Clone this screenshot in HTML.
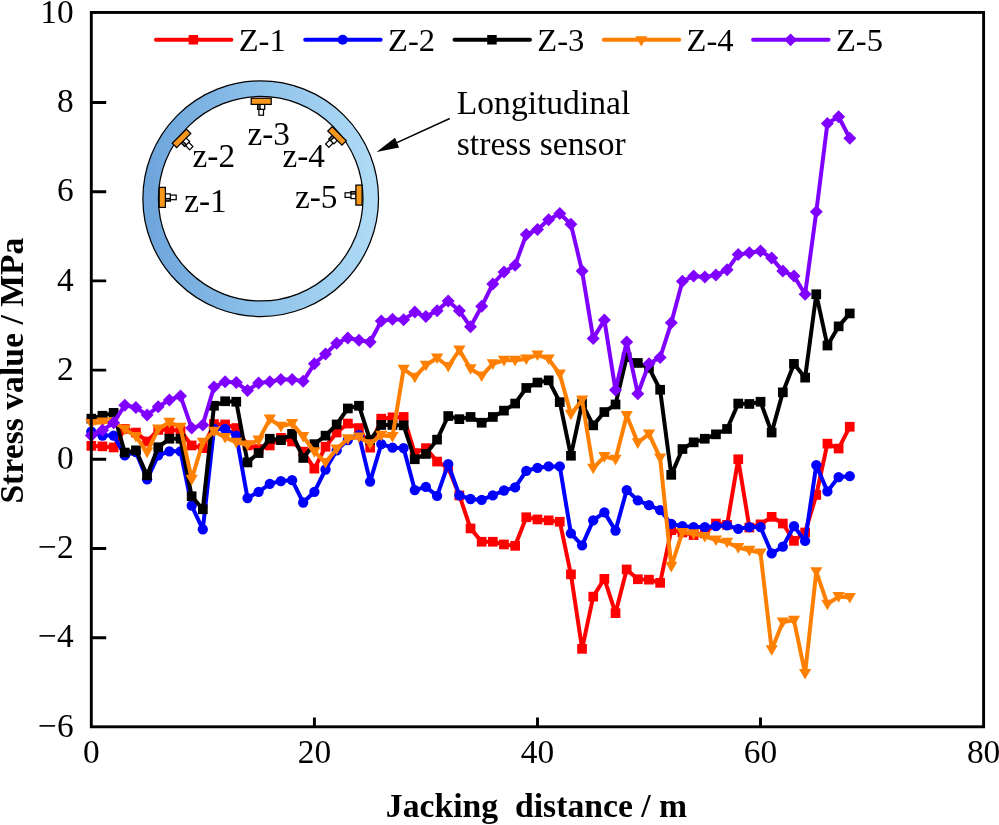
<!DOCTYPE html>
<html lang="en"><head><meta charset="utf-8"><title>Stress value vs jacking distance</title>
<style>html,body{margin:0;padding:0;background:#fff}body{width:999px;height:825px;overflow:hidden}svg{display:block}text{font-family:"Liberation Serif","Times New Roman",serif;fill:#000}</style></head><body>
<svg width="999" height="825" viewBox="0 0 999 825">
<defs><linearGradient id="rg" x1="0" y1="0" x2="1" y2="0"><stop offset="0" stop-color="#6ea6dc"/><stop offset="0.5" stop-color="#8ec2ea"/><stop offset="1" stop-color="#aedaf5"/></linearGradient></defs>
<rect width="999" height="825" fill="#fff"/>
<g id="ring">
<circle cx="260.7" cy="198.7" r="110.05" fill="none" stroke="#000" stroke-width="16.8"/>
<circle cx="260.7" cy="198.7" r="110.05" fill="none" stroke="url(#rg)" stroke-width="14.3"/>
<g transform="translate(261.2,97.6) rotate(0)" stroke="#000" stroke-width="1.25"><rect x="-2.3" y="11" width="4.6" height="6.6" fill="#fff"/><rect x="-3.5" y="6.5" width="7" height="5.2" fill="#fff"/><rect x="-3.5" y="6.5" width="2.4" height="5.2" fill="#777"/><rect x="-10" y="0.6" width="20" height="6.2" fill="#f7981d"/></g>
<g transform="translate(158.6,197.4) rotate(-90)" stroke="#000" stroke-width="1.25"><rect x="-2.3" y="11" width="4.6" height="6.6" fill="#fff"/><rect x="-3.5" y="6.5" width="7" height="5.2" fill="#fff"/><rect x="-3.5" y="6.5" width="2.4" height="5.2" fill="#777"/><rect x="-10" y="0.6" width="20" height="6.2" fill="#f7981d"/></g>
<g transform="translate(362.7,195.1) rotate(90)" stroke="#000" stroke-width="1.25"><rect x="-2.3" y="11" width="4.6" height="6.6" fill="#fff"/><rect x="-3.5" y="6.5" width="7" height="5.2" fill="#fff"/><rect x="-3.5" y="6.5" width="2.4" height="5.2" fill="#777"/><rect x="-10" y="0.6" width="20" height="6.2" fill="#f7981d"/></g>
<g transform="translate(178.9,135.7) rotate(-45)" stroke="#000" stroke-width="1.25"><rect x="-2.3" y="11" width="4.6" height="6.6" fill="#fff"/><rect x="-3.5" y="6.5" width="7" height="5.2" fill="#fff"/><rect x="-3.5" y="6.5" width="2.4" height="5.2" fill="#777"/><rect x="-10" y="0.6" width="20" height="6.2" fill="#f7981d"/></g>
<g transform="translate(339.7,133.2) rotate(45)" stroke="#000" stroke-width="1.25"><rect x="-2.3" y="11" width="4.6" height="6.6" fill="#fff"/><rect x="-3.5" y="6.5" width="7" height="5.2" fill="#fff"/><rect x="-3.5" y="6.5" width="2.4" height="5.2" fill="#777"/><rect x="-10" y="0.6" width="20" height="6.2" fill="#f7981d"/></g>
<text x="184.2" y="211.9" font-size="33.3">z-1</text>
<text x="192.6" y="167.1" font-size="33.3">z-2</text>
<text x="247.5" y="145.1" font-size="33.3">z-3</text>
<text x="282.4" y="167.1" font-size="33.3">z-4</text>
<text x="295" y="207.8" font-size="33.3">z-5</text>
</g>
<g id="s-Z-1"><polyline points="91.3,445.9 102.5,446.3 113.6,447.5 124.8,429.0 135.9,432.5 147.1,441.4 158.2,429.8 169.4,429.8 180.5,430.7 191.7,445.5 202.8,448.1 214.0,424.0 225.1,424.5 236.3,428.1 247.5,445.5 258.6,449.0 269.8,445.5 280.9,437.9 292.1,441.4 303.2,451.7 314.4,468.6 325.5,446.8 336.7,432.5 347.8,423.6 359.0,428.1 370.1,447.7 381.3,418.7 392.5,417.4 403.6,416.9 414.8,453.0 425.9,448.1 437.1,461.5 448.2,467.8 459.4,495.4 470.5,528.4 481.7,541.8 492.8,541.8 504.0,544.5 515.1,545.8 526.3,517.3 537.5,519.5 548.6,520.4 559.8,521.7 570.9,574.3 582.1,648.8 593.2,596.6 604.4,578.8 615.5,613.1 626.7,569.4 637.8,579.3 649.0,579.7 660.1,582.8 671.3,530.2 682.4,532.4 693.6,535.1 704.8,533.3 715.9,523.5 727.1,524.8 738.2,459.3 749.4,527.5 760.5,524.4 771.7,516.8 782.8,523.5 794.0,540.9 805.1,532.4 816.3,495.0 827.4,443.7 838.6,448.6 849.8,426.7" fill="none" stroke="#ff0000" stroke-width="4.0" stroke-linejoin="round" stroke-linecap="round"/>
<rect x="86.5" y="441.0" width="9.7" height="9.7" fill="#ff0000"/><rect x="97.6" y="441.5" width="9.7" height="9.7" fill="#ff0000"/><rect x="108.8" y="442.6" width="9.7" height="9.7" fill="#ff0000"/><rect x="119.9" y="424.1" width="9.7" height="9.7" fill="#ff0000"/><rect x="131.1" y="427.7" width="9.7" height="9.7" fill="#ff0000"/><rect x="142.2" y="436.6" width="9.7" height="9.7" fill="#ff0000"/><rect x="153.4" y="425.0" width="9.7" height="9.7" fill="#ff0000"/><rect x="164.5" y="425.0" width="9.7" height="9.7" fill="#ff0000"/><rect x="175.7" y="425.9" width="9.7" height="9.7" fill="#ff0000"/><rect x="186.8" y="440.6" width="9.7" height="9.7" fill="#ff0000"/><rect x="198.0" y="443.3" width="9.7" height="9.7" fill="#ff0000"/><rect x="209.1" y="419.2" width="9.7" height="9.7" fill="#ff0000"/><rect x="220.3" y="419.6" width="9.7" height="9.7" fill="#ff0000"/><rect x="231.4" y="423.2" width="9.7" height="9.7" fill="#ff0000"/><rect x="242.6" y="440.6" width="9.7" height="9.7" fill="#ff0000"/><rect x="253.8" y="444.2" width="9.7" height="9.7" fill="#ff0000"/><rect x="264.9" y="440.6" width="9.7" height="9.7" fill="#ff0000"/><rect x="276.1" y="433.0" width="9.7" height="9.7" fill="#ff0000"/><rect x="287.2" y="436.6" width="9.7" height="9.7" fill="#ff0000"/><rect x="298.4" y="446.8" width="9.7" height="9.7" fill="#ff0000"/><rect x="309.5" y="463.8" width="9.7" height="9.7" fill="#ff0000"/><rect x="320.7" y="441.9" width="9.7" height="9.7" fill="#ff0000"/><rect x="331.8" y="427.7" width="9.7" height="9.7" fill="#ff0000"/><rect x="343.0" y="418.7" width="9.7" height="9.7" fill="#ff0000"/><rect x="354.1" y="423.2" width="9.7" height="9.7" fill="#ff0000"/><rect x="365.3" y="442.8" width="9.7" height="9.7" fill="#ff0000"/><rect x="376.4" y="413.8" width="9.7" height="9.7" fill="#ff0000"/><rect x="387.6" y="412.5" width="9.7" height="9.7" fill="#ff0000"/><rect x="398.8" y="412.1" width="9.7" height="9.7" fill="#ff0000"/><rect x="409.9" y="448.2" width="9.7" height="9.7" fill="#ff0000"/><rect x="421.1" y="443.3" width="9.7" height="9.7" fill="#ff0000"/><rect x="432.2" y="456.7" width="9.7" height="9.7" fill="#ff0000"/><rect x="443.4" y="462.9" width="9.7" height="9.7" fill="#ff0000"/><rect x="454.5" y="490.6" width="9.7" height="9.7" fill="#ff0000"/><rect x="465.7" y="523.6" width="9.7" height="9.7" fill="#ff0000"/><rect x="476.8" y="536.9" width="9.7" height="9.7" fill="#ff0000"/><rect x="488.0" y="536.9" width="9.7" height="9.7" fill="#ff0000"/><rect x="499.1" y="539.6" width="9.7" height="9.7" fill="#ff0000"/><rect x="510.3" y="541.0" width="9.7" height="9.7" fill="#ff0000"/><rect x="521.4" y="512.4" width="9.7" height="9.7" fill="#ff0000"/><rect x="532.6" y="514.6" width="9.7" height="9.7" fill="#ff0000"/><rect x="543.8" y="515.5" width="9.7" height="9.7" fill="#ff0000"/><rect x="554.9" y="516.9" width="9.7" height="9.7" fill="#ff0000"/><rect x="566.1" y="569.5" width="9.7" height="9.7" fill="#ff0000"/><rect x="577.2" y="644.0" width="9.7" height="9.7" fill="#ff0000"/><rect x="588.4" y="591.8" width="9.7" height="9.7" fill="#ff0000"/><rect x="599.5" y="574.0" width="9.7" height="9.7" fill="#ff0000"/><rect x="610.7" y="608.3" width="9.7" height="9.7" fill="#ff0000"/><rect x="621.8" y="564.6" width="9.7" height="9.7" fill="#ff0000"/><rect x="633.0" y="574.4" width="9.7" height="9.7" fill="#ff0000"/><rect x="644.1" y="574.8" width="9.7" height="9.7" fill="#ff0000"/><rect x="655.3" y="578.0" width="9.7" height="9.7" fill="#ff0000"/><rect x="666.4" y="525.3" width="9.7" height="9.7" fill="#ff0000"/><rect x="677.6" y="527.6" width="9.7" height="9.7" fill="#ff0000"/><rect x="688.8" y="530.2" width="9.7" height="9.7" fill="#ff0000"/><rect x="699.9" y="528.5" width="9.7" height="9.7" fill="#ff0000"/><rect x="711.1" y="518.7" width="9.7" height="9.7" fill="#ff0000"/><rect x="722.2" y="520.0" width="9.7" height="9.7" fill="#ff0000"/><rect x="733.4" y="454.4" width="9.7" height="9.7" fill="#ff0000"/><rect x="744.5" y="522.7" width="9.7" height="9.7" fill="#ff0000"/><rect x="755.7" y="519.5" width="9.7" height="9.7" fill="#ff0000"/><rect x="766.8" y="512.0" width="9.7" height="9.7" fill="#ff0000"/><rect x="778.0" y="518.7" width="9.7" height="9.7" fill="#ff0000"/><rect x="789.1" y="536.0" width="9.7" height="9.7" fill="#ff0000"/><rect x="800.3" y="527.6" width="9.7" height="9.7" fill="#ff0000"/><rect x="811.4" y="490.1" width="9.7" height="9.7" fill="#ff0000"/><rect x="822.6" y="438.8" width="9.7" height="9.7" fill="#ff0000"/><rect x="833.8" y="443.7" width="9.7" height="9.7" fill="#ff0000"/><rect x="844.9" y="421.9" width="9.7" height="9.7" fill="#ff0000"/>
</g>
<g id="s-Z-2"><polyline points="91.3,431.6 102.5,435.6 113.6,435.6 124.8,455.3 135.9,452.1 147.1,479.3 158.2,455.3 169.4,451.3 180.5,451.3 191.7,505.7 202.8,529.3 214.0,429.0 225.1,429.0 236.3,435.6 247.5,498.1 258.6,491.8 269.8,483.8 280.9,481.1 292.1,480.2 303.2,502.5 314.4,491.8 325.5,469.5 336.7,450.4 347.8,440.1 359.0,435.2 370.1,481.6 381.3,444.1 392.5,447.7 403.6,448.1 414.8,490.1 425.9,486.9 437.1,495.9 448.2,464.2 459.4,495.4 470.5,499.0 481.7,499.9 492.8,495.4 504.0,490.5 515.1,487.4 526.3,470.9 537.5,467.8 548.6,466.4 559.8,466.4 570.9,533.3 582.1,545.4 593.2,520.4 604.4,512.4 615.5,530.6 626.7,490.1 637.8,500.3 649.0,505.2 660.1,510.1 671.3,523.9 682.4,526.2 693.6,527.1 704.8,527.1 715.9,526.2 727.1,525.3 738.2,528.9 749.4,527.1 760.5,527.1 771.7,553.4 782.8,546.7 794.0,526.2 805.1,540.9 816.3,465.1 827.4,491.4 838.6,477.1 849.8,476.2" fill="none" stroke="#0000ff" stroke-width="4.0" stroke-linejoin="round" stroke-linecap="round"/>
<circle cx="91.3" cy="431.6" r="5.15" fill="#0000ff"/><circle cx="102.5" cy="435.6" r="5.15" fill="#0000ff"/><circle cx="113.6" cy="435.6" r="5.15" fill="#0000ff"/><circle cx="124.8" cy="455.3" r="5.15" fill="#0000ff"/><circle cx="135.9" cy="452.1" r="5.15" fill="#0000ff"/><circle cx="147.1" cy="479.3" r="5.15" fill="#0000ff"/><circle cx="158.2" cy="455.3" r="5.15" fill="#0000ff"/><circle cx="169.4" cy="451.3" r="5.15" fill="#0000ff"/><circle cx="180.5" cy="451.3" r="5.15" fill="#0000ff"/><circle cx="191.7" cy="505.7" r="5.15" fill="#0000ff"/><circle cx="202.8" cy="529.3" r="5.15" fill="#0000ff"/><circle cx="214.0" cy="429.0" r="5.15" fill="#0000ff"/><circle cx="225.1" cy="429.0" r="5.15" fill="#0000ff"/><circle cx="236.3" cy="435.6" r="5.15" fill="#0000ff"/><circle cx="247.5" cy="498.1" r="5.15" fill="#0000ff"/><circle cx="258.6" cy="491.8" r="5.15" fill="#0000ff"/><circle cx="269.8" cy="483.8" r="5.15" fill="#0000ff"/><circle cx="280.9" cy="481.1" r="5.15" fill="#0000ff"/><circle cx="292.1" cy="480.2" r="5.15" fill="#0000ff"/><circle cx="303.2" cy="502.5" r="5.15" fill="#0000ff"/><circle cx="314.4" cy="491.8" r="5.15" fill="#0000ff"/><circle cx="325.5" cy="469.5" r="5.15" fill="#0000ff"/><circle cx="336.7" cy="450.4" r="5.15" fill="#0000ff"/><circle cx="347.8" cy="440.1" r="5.15" fill="#0000ff"/><circle cx="359.0" cy="435.2" r="5.15" fill="#0000ff"/><circle cx="370.1" cy="481.6" r="5.15" fill="#0000ff"/><circle cx="381.3" cy="444.1" r="5.15" fill="#0000ff"/><circle cx="392.5" cy="447.7" r="5.15" fill="#0000ff"/><circle cx="403.6" cy="448.1" r="5.15" fill="#0000ff"/><circle cx="414.8" cy="490.1" r="5.15" fill="#0000ff"/><circle cx="425.9" cy="486.9" r="5.15" fill="#0000ff"/><circle cx="437.1" cy="495.9" r="5.15" fill="#0000ff"/><circle cx="448.2" cy="464.2" r="5.15" fill="#0000ff"/><circle cx="459.4" cy="495.4" r="5.15" fill="#0000ff"/><circle cx="470.5" cy="499.0" r="5.15" fill="#0000ff"/><circle cx="481.7" cy="499.9" r="5.15" fill="#0000ff"/><circle cx="492.8" cy="495.4" r="5.15" fill="#0000ff"/><circle cx="504.0" cy="490.5" r="5.15" fill="#0000ff"/><circle cx="515.1" cy="487.4" r="5.15" fill="#0000ff"/><circle cx="526.3" cy="470.9" r="5.15" fill="#0000ff"/><circle cx="537.5" cy="467.8" r="5.15" fill="#0000ff"/><circle cx="548.6" cy="466.4" r="5.15" fill="#0000ff"/><circle cx="559.8" cy="466.4" r="5.15" fill="#0000ff"/><circle cx="570.9" cy="533.3" r="5.15" fill="#0000ff"/><circle cx="582.1" cy="545.4" r="5.15" fill="#0000ff"/><circle cx="593.2" cy="520.4" r="5.15" fill="#0000ff"/><circle cx="604.4" cy="512.4" r="5.15" fill="#0000ff"/><circle cx="615.5" cy="530.6" r="5.15" fill="#0000ff"/><circle cx="626.7" cy="490.1" r="5.15" fill="#0000ff"/><circle cx="637.8" cy="500.3" r="5.15" fill="#0000ff"/><circle cx="649.0" cy="505.2" r="5.15" fill="#0000ff"/><circle cx="660.1" cy="510.1" r="5.15" fill="#0000ff"/><circle cx="671.3" cy="523.9" r="5.15" fill="#0000ff"/><circle cx="682.4" cy="526.2" r="5.15" fill="#0000ff"/><circle cx="693.6" cy="527.1" r="5.15" fill="#0000ff"/><circle cx="704.8" cy="527.1" r="5.15" fill="#0000ff"/><circle cx="715.9" cy="526.2" r="5.15" fill="#0000ff"/><circle cx="727.1" cy="525.3" r="5.15" fill="#0000ff"/><circle cx="738.2" cy="528.9" r="5.15" fill="#0000ff"/><circle cx="749.4" cy="527.1" r="5.15" fill="#0000ff"/><circle cx="760.5" cy="527.1" r="5.15" fill="#0000ff"/><circle cx="771.7" cy="553.4" r="5.15" fill="#0000ff"/><circle cx="782.8" cy="546.7" r="5.15" fill="#0000ff"/><circle cx="794.0" cy="526.2" r="5.15" fill="#0000ff"/><circle cx="805.1" cy="540.9" r="5.15" fill="#0000ff"/><circle cx="816.3" cy="465.1" r="5.15" fill="#0000ff"/><circle cx="827.4" cy="491.4" r="5.15" fill="#0000ff"/><circle cx="838.6" cy="477.1" r="5.15" fill="#0000ff"/><circle cx="849.8" cy="476.2" r="5.15" fill="#0000ff"/>
</g>
<g id="s-Z-3"><polyline points="91.3,418.7 102.5,415.8 113.6,412.9 124.8,452.6 135.9,450.4 147.1,475.3 158.2,447.2 169.4,438.8 180.5,438.8 191.7,496.3 202.8,509.2 214.0,405.8 225.1,401.3 236.3,401.7 247.5,462.4 258.6,453.0 269.8,438.8 280.9,440.1 292.1,433.9 303.2,457.9 314.4,444.1 325.5,435.6 336.7,424.5 347.8,408.4 359.0,405.8 370.1,440.1 381.3,424.9 392.5,424.9 403.6,425.4 414.8,459.3 425.9,453.9 437.1,439.7 448.2,416.0 459.4,419.1 470.5,416.9 481.7,422.7 492.8,416.9 504.0,410.7 515.1,403.5 526.3,387.9 537.5,382.6 548.6,380.3 559.8,402.2 570.9,455.7 582.1,403.5 593.2,425.4 604.4,412.0 615.5,404.4 626.7,357.1 637.8,362.9 649.0,367.8 660.1,389.7 671.3,474.9 682.4,449.0 693.6,442.3 704.8,438.8 715.9,434.3 727.1,429.0 738.2,403.5 749.4,404.0 760.5,401.7 771.7,432.5 782.8,392.4 794.0,363.8 805.1,377.7 816.3,294.3 827.4,345.6 838.6,326.4 849.8,313.4" fill="none" stroke="#000000" stroke-width="4.0" stroke-linejoin="round" stroke-linecap="round"/>
<rect x="86.5" y="413.8" width="9.7" height="9.7" fill="#000000"/><rect x="97.6" y="410.9" width="9.7" height="9.7" fill="#000000"/><rect x="108.8" y="408.0" width="9.7" height="9.7" fill="#000000"/><rect x="119.9" y="447.7" width="9.7" height="9.7" fill="#000000"/><rect x="131.1" y="445.5" width="9.7" height="9.7" fill="#000000"/><rect x="142.2" y="470.5" width="9.7" height="9.7" fill="#000000"/><rect x="153.4" y="442.4" width="9.7" height="9.7" fill="#000000"/><rect x="164.5" y="433.9" width="9.7" height="9.7" fill="#000000"/><rect x="175.7" y="433.9" width="9.7" height="9.7" fill="#000000"/><rect x="186.8" y="491.4" width="9.7" height="9.7" fill="#000000"/><rect x="198.0" y="504.4" width="9.7" height="9.7" fill="#000000"/><rect x="209.1" y="400.9" width="9.7" height="9.7" fill="#000000"/><rect x="220.3" y="396.4" width="9.7" height="9.7" fill="#000000"/><rect x="231.4" y="396.9" width="9.7" height="9.7" fill="#000000"/><rect x="242.6" y="457.6" width="9.7" height="9.7" fill="#000000"/><rect x="253.8" y="448.2" width="9.7" height="9.7" fill="#000000"/><rect x="264.9" y="433.9" width="9.7" height="9.7" fill="#000000"/><rect x="276.1" y="435.3" width="9.7" height="9.7" fill="#000000"/><rect x="287.2" y="429.0" width="9.7" height="9.7" fill="#000000"/><rect x="298.4" y="453.1" width="9.7" height="9.7" fill="#000000"/><rect x="309.5" y="439.3" width="9.7" height="9.7" fill="#000000"/><rect x="320.7" y="430.8" width="9.7" height="9.7" fill="#000000"/><rect x="331.8" y="419.6" width="9.7" height="9.7" fill="#000000"/><rect x="343.0" y="403.6" width="9.7" height="9.7" fill="#000000"/><rect x="354.1" y="400.9" width="9.7" height="9.7" fill="#000000"/><rect x="365.3" y="435.3" width="9.7" height="9.7" fill="#000000"/><rect x="376.4" y="420.1" width="9.7" height="9.7" fill="#000000"/><rect x="387.6" y="420.1" width="9.7" height="9.7" fill="#000000"/><rect x="398.8" y="420.5" width="9.7" height="9.7" fill="#000000"/><rect x="409.9" y="454.4" width="9.7" height="9.7" fill="#000000"/><rect x="421.1" y="449.1" width="9.7" height="9.7" fill="#000000"/><rect x="432.2" y="434.8" width="9.7" height="9.7" fill="#000000"/><rect x="443.4" y="411.2" width="9.7" height="9.7" fill="#000000"/><rect x="454.5" y="414.3" width="9.7" height="9.7" fill="#000000"/><rect x="465.7" y="412.1" width="9.7" height="9.7" fill="#000000"/><rect x="476.8" y="417.9" width="9.7" height="9.7" fill="#000000"/><rect x="488.0" y="412.1" width="9.7" height="9.7" fill="#000000"/><rect x="499.1" y="405.8" width="9.7" height="9.7" fill="#000000"/><rect x="510.3" y="398.7" width="9.7" height="9.7" fill="#000000"/><rect x="521.4" y="383.1" width="9.7" height="9.7" fill="#000000"/><rect x="532.6" y="377.7" width="9.7" height="9.7" fill="#000000"/><rect x="543.8" y="375.5" width="9.7" height="9.7" fill="#000000"/><rect x="554.9" y="397.3" width="9.7" height="9.7" fill="#000000"/><rect x="566.1" y="450.9" width="9.7" height="9.7" fill="#000000"/><rect x="577.2" y="398.7" width="9.7" height="9.7" fill="#000000"/><rect x="588.4" y="420.5" width="9.7" height="9.7" fill="#000000"/><rect x="599.5" y="407.2" width="9.7" height="9.7" fill="#000000"/><rect x="610.7" y="399.6" width="9.7" height="9.7" fill="#000000"/><rect x="621.8" y="352.3" width="9.7" height="9.7" fill="#000000"/><rect x="633.0" y="358.1" width="9.7" height="9.7" fill="#000000"/><rect x="644.1" y="363.0" width="9.7" height="9.7" fill="#000000"/><rect x="655.3" y="384.9" width="9.7" height="9.7" fill="#000000"/><rect x="666.4" y="470.0" width="9.7" height="9.7" fill="#000000"/><rect x="677.6" y="444.2" width="9.7" height="9.7" fill="#000000"/><rect x="688.8" y="437.5" width="9.7" height="9.7" fill="#000000"/><rect x="699.9" y="433.9" width="9.7" height="9.7" fill="#000000"/><rect x="711.1" y="429.5" width="9.7" height="9.7" fill="#000000"/><rect x="722.2" y="424.1" width="9.7" height="9.7" fill="#000000"/><rect x="733.4" y="398.7" width="9.7" height="9.7" fill="#000000"/><rect x="744.5" y="399.1" width="9.7" height="9.7" fill="#000000"/><rect x="755.7" y="396.9" width="9.7" height="9.7" fill="#000000"/><rect x="766.8" y="427.7" width="9.7" height="9.7" fill="#000000"/><rect x="778.0" y="387.5" width="9.7" height="9.7" fill="#000000"/><rect x="789.1" y="359.0" width="9.7" height="9.7" fill="#000000"/><rect x="800.3" y="372.8" width="9.7" height="9.7" fill="#000000"/><rect x="811.4" y="289.4" width="9.7" height="9.7" fill="#000000"/><rect x="822.6" y="340.7" width="9.7" height="9.7" fill="#000000"/><rect x="833.8" y="321.5" width="9.7" height="9.7" fill="#000000"/><rect x="844.9" y="308.6" width="9.7" height="9.7" fill="#000000"/>
</g>
<g id="s-Z-4"><polyline points="91.3,423.6 102.5,422.0 113.6,421.8 124.8,429.2 135.9,436.5 147.1,452.1 158.2,429.0 169.4,422.3 180.5,427.2 191.7,479.3 202.8,442.3 214.0,431.2 225.1,437.4 236.3,442.3 247.5,445.0 258.6,440.1 269.8,419.1 280.9,426.3 292.1,423.6 303.2,436.5 314.4,451.7 325.5,462.4 336.7,449.0 347.8,438.8 359.0,437.0 370.1,443.7 381.3,435.2 392.5,436.5 403.6,369.2 414.8,377.2 425.9,365.2 437.1,358.0 448.2,366.5 459.4,350.0 470.5,368.7 481.7,375.9 492.8,363.8 504.0,360.3 515.1,360.3 526.3,358.9 537.5,354.9 548.6,358.9 559.8,374.1 570.9,414.2 582.1,400.0 593.2,468.2 604.4,456.6 615.5,459.3 626.7,415.6 637.8,442.8 649.0,433.9 660.1,457.9 671.3,566.3 682.4,532.4 693.6,533.8 704.8,536.4 715.9,540.0 727.1,542.2 738.2,547.6 749.4,550.3 760.5,552.9 771.7,649.7 782.8,622.1 794.0,620.3 805.1,673.4 816.3,571.7 827.4,604.2 838.6,596.6 849.8,597.5" fill="none" stroke="#ff8000" stroke-width="4.0" stroke-linejoin="round" stroke-linecap="round"/>
<polygon points="85.2,419.1 97.4,419.1 91.3,429.7" fill="#ff8000"/><polygon points="96.4,417.5 108.6,417.5 102.5,428.1" fill="#ff8000"/><polygon points="107.5,417.3 119.7,417.3 113.6,427.9" fill="#ff8000"/><polygon points="118.7,424.7 130.9,424.7 124.8,435.3" fill="#ff8000"/><polygon points="129.8,432.0 142.0,432.0 135.9,442.6" fill="#ff8000"/><polygon points="141.0,447.6 153.2,447.6 147.1,458.2" fill="#ff8000"/><polygon points="152.1,424.5 164.3,424.5 158.2,435.1" fill="#ff8000"/><polygon points="163.3,417.8 175.5,417.8 169.4,428.4" fill="#ff8000"/><polygon points="174.4,422.7 186.6,422.7 180.5,433.3" fill="#ff8000"/><polygon points="185.6,474.8 197.8,474.8 191.7,485.4" fill="#ff8000"/><polygon points="196.7,437.8 208.9,437.8 202.8,448.4" fill="#ff8000"/><polygon points="207.9,426.7 220.1,426.7 214.0,437.3" fill="#ff8000"/><polygon points="219.0,432.9 231.2,432.9 225.1,443.5" fill="#ff8000"/><polygon points="230.2,437.8 242.4,437.8 236.3,448.4" fill="#ff8000"/><polygon points="241.4,440.5 253.6,440.5 247.5,451.1" fill="#ff8000"/><polygon points="252.5,435.6 264.7,435.6 258.6,446.2" fill="#ff8000"/><polygon points="263.7,414.6 275.9,414.6 269.8,425.2" fill="#ff8000"/><polygon points="274.8,421.8 287.0,421.8 280.9,432.4" fill="#ff8000"/><polygon points="286.0,419.1 298.2,419.1 292.1,429.7" fill="#ff8000"/><polygon points="297.1,432.0 309.3,432.0 303.2,442.6" fill="#ff8000"/><polygon points="308.3,447.2 320.5,447.2 314.4,457.8" fill="#ff8000"/><polygon points="319.4,457.9 331.6,457.9 325.5,468.5" fill="#ff8000"/><polygon points="330.6,444.5 342.8,444.5 336.7,455.1" fill="#ff8000"/><polygon points="341.7,434.3 353.9,434.3 347.8,444.9" fill="#ff8000"/><polygon points="352.9,432.5 365.1,432.5 359.0,443.1" fill="#ff8000"/><polygon points="364.0,439.2 376.2,439.2 370.1,449.8" fill="#ff8000"/><polygon points="375.2,430.7 387.4,430.7 381.3,441.3" fill="#ff8000"/><polygon points="386.4,432.0 398.6,432.0 392.5,442.6" fill="#ff8000"/><polygon points="397.5,364.7 409.7,364.7 403.6,375.3" fill="#ff8000"/><polygon points="408.7,372.7 420.9,372.7 414.8,383.3" fill="#ff8000"/><polygon points="419.8,360.7 432.0,360.7 425.9,371.3" fill="#ff8000"/><polygon points="431.0,353.5 443.2,353.5 437.1,364.1" fill="#ff8000"/><polygon points="442.1,362.0 454.3,362.0 448.2,372.6" fill="#ff8000"/><polygon points="453.3,345.5 465.5,345.5 459.4,356.1" fill="#ff8000"/><polygon points="464.4,364.2 476.6,364.2 470.5,374.8" fill="#ff8000"/><polygon points="475.6,371.4 487.8,371.4 481.7,382.0" fill="#ff8000"/><polygon points="486.7,359.3 498.9,359.3 492.8,369.9" fill="#ff8000"/><polygon points="497.9,355.8 510.1,355.8 504.0,366.4" fill="#ff8000"/><polygon points="509.0,355.8 521.2,355.8 515.1,366.4" fill="#ff8000"/><polygon points="520.2,354.4 532.4,354.4 526.3,365.0" fill="#ff8000"/><polygon points="531.4,350.4 543.6,350.4 537.5,361.0" fill="#ff8000"/><polygon points="542.5,354.4 554.7,354.4 548.6,365.0" fill="#ff8000"/><polygon points="553.7,369.6 565.9,369.6 559.8,380.2" fill="#ff8000"/><polygon points="564.8,409.7 577.0,409.7 570.9,420.3" fill="#ff8000"/><polygon points="576.0,395.5 588.2,395.5 582.1,406.1" fill="#ff8000"/><polygon points="587.1,463.7 599.3,463.7 593.2,474.3" fill="#ff8000"/><polygon points="598.3,452.1 610.5,452.1 604.4,462.7" fill="#ff8000"/><polygon points="609.4,454.8 621.6,454.8 615.5,465.4" fill="#ff8000"/><polygon points="620.6,411.1 632.8,411.1 626.7,421.7" fill="#ff8000"/><polygon points="631.7,438.3 643.9,438.3 637.8,448.9" fill="#ff8000"/><polygon points="642.9,429.4 655.1,429.4 649.0,440.0" fill="#ff8000"/><polygon points="654.0,453.4 666.2,453.4 660.1,464.0" fill="#ff8000"/><polygon points="665.2,561.8 677.4,561.8 671.3,572.4" fill="#ff8000"/><polygon points="676.3,527.9 688.5,527.9 682.4,538.5" fill="#ff8000"/><polygon points="687.5,529.3 699.7,529.3 693.6,539.9" fill="#ff8000"/><polygon points="698.7,531.9 710.9,531.9 704.8,542.5" fill="#ff8000"/><polygon points="709.8,535.5 722.0,535.5 715.9,546.1" fill="#ff8000"/><polygon points="721.0,537.7 733.2,537.7 727.1,548.3" fill="#ff8000"/><polygon points="732.1,543.1 744.3,543.1 738.2,553.7" fill="#ff8000"/><polygon points="743.3,545.8 755.5,545.8 749.4,556.4" fill="#ff8000"/><polygon points="754.4,548.4 766.6,548.4 760.5,559.0" fill="#ff8000"/><polygon points="765.6,645.2 777.8,645.2 771.7,655.8" fill="#ff8000"/><polygon points="776.7,617.6 788.9,617.6 782.8,628.2" fill="#ff8000"/><polygon points="787.9,615.8 800.1,615.8 794.0,626.4" fill="#ff8000"/><polygon points="799.0,668.9 811.2,668.9 805.1,679.5" fill="#ff8000"/><polygon points="810.2,567.2 822.4,567.2 816.3,577.8" fill="#ff8000"/><polygon points="821.3,599.7 833.5,599.7 827.4,610.3" fill="#ff8000"/><polygon points="832.5,592.1 844.7,592.1 838.6,602.7" fill="#ff8000"/><polygon points="843.7,593.0 855.9,593.0 849.8,603.6" fill="#ff8000"/>
</g>
<g id="s-Z-5"><polyline points="91.3,435.4 102.5,430.3 113.6,422.7 124.8,405.3 135.9,407.5 147.1,415.1 158.2,406.7 169.4,400.0 180.5,395.9 191.7,428.1 202.8,424.9 214.0,387.0 225.1,381.7 236.3,382.6 247.5,390.6 258.6,383.0 269.8,381.7 280.9,379.4 292.1,379.4 303.2,381.2 314.4,363.8 325.5,354.0 336.7,343.3 347.8,338.0 359.0,340.2 370.1,342.0 381.3,321.0 392.5,319.2 403.6,319.7 414.8,312.1 425.9,316.6 437.1,310.8 448.2,300.9 459.4,310.8 470.5,326.8 481.7,306.3 492.8,284.0 504.0,272.0 515.1,265.3 526.3,234.5 537.5,229.6 548.6,219.8 559.8,213.5 570.9,224.2 582.1,271.1 593.2,338.4 604.4,320.1 615.5,390.1 626.7,342.0 637.8,393.7 649.0,363.8 660.1,357.6 671.3,322.8 682.4,281.3 693.6,276.0 704.8,276.9 715.9,275.1 727.1,269.7 738.2,254.6 749.4,252.8 760.5,251.0 771.7,258.1 782.8,271.1 794.0,276.0 805.1,294.3 816.3,211.8 827.4,123.4 838.6,116.8 849.8,138.2" fill="none" stroke="#8000ff" stroke-width="4.0" stroke-linejoin="round" stroke-linecap="round"/>
<polygon points="84.8,435.4 91.3,428.9 97.8,435.4 91.3,441.9" fill="#8000ff"/><polygon points="96.0,430.3 102.5,423.8 109.0,430.3 102.5,436.8" fill="#8000ff"/><polygon points="107.1,422.7 113.6,416.2 120.1,422.7 113.6,429.2" fill="#8000ff"/><polygon points="118.3,405.3 124.8,398.8 131.3,405.3 124.8,411.8" fill="#8000ff"/><polygon points="129.4,407.5 135.9,401.0 142.4,407.5 135.9,414.0" fill="#8000ff"/><polygon points="140.6,415.1 147.1,408.6 153.6,415.1 147.1,421.6" fill="#8000ff"/><polygon points="151.7,406.7 158.2,400.2 164.7,406.7 158.2,413.2" fill="#8000ff"/><polygon points="162.9,400.0 169.4,393.5 175.9,400.0 169.4,406.5" fill="#8000ff"/><polygon points="174.0,395.9 180.5,389.4 187.0,395.9 180.5,402.4" fill="#8000ff"/><polygon points="185.2,428.1 191.7,421.6 198.2,428.1 191.7,434.6" fill="#8000ff"/><polygon points="196.3,424.9 202.8,418.4 209.3,424.9 202.8,431.4" fill="#8000ff"/><polygon points="207.5,387.0 214.0,380.5 220.5,387.0 214.0,393.5" fill="#8000ff"/><polygon points="218.6,381.7 225.1,375.2 231.6,381.7 225.1,388.2" fill="#8000ff"/><polygon points="229.8,382.6 236.3,376.1 242.8,382.6 236.3,389.1" fill="#8000ff"/><polygon points="241.0,390.6 247.5,384.1 254.0,390.6 247.5,397.1" fill="#8000ff"/><polygon points="252.1,383.0 258.6,376.5 265.1,383.0 258.6,389.5" fill="#8000ff"/><polygon points="263.3,381.7 269.8,375.2 276.3,381.7 269.8,388.2" fill="#8000ff"/><polygon points="274.4,379.4 280.9,372.9 287.4,379.4 280.9,385.9" fill="#8000ff"/><polygon points="285.6,379.4 292.1,372.9 298.6,379.4 292.1,385.9" fill="#8000ff"/><polygon points="296.7,381.2 303.2,374.7 309.7,381.2 303.2,387.7" fill="#8000ff"/><polygon points="307.9,363.8 314.4,357.3 320.9,363.8 314.4,370.3" fill="#8000ff"/><polygon points="319.0,354.0 325.5,347.5 332.0,354.0 325.5,360.5" fill="#8000ff"/><polygon points="330.2,343.3 336.7,336.8 343.2,343.3 336.7,349.8" fill="#8000ff"/><polygon points="341.3,338.0 347.8,331.5 354.3,338.0 347.8,344.5" fill="#8000ff"/><polygon points="352.5,340.2 359.0,333.7 365.5,340.2 359.0,346.7" fill="#8000ff"/><polygon points="363.6,342.0 370.1,335.5 376.6,342.0 370.1,348.5" fill="#8000ff"/><polygon points="374.8,321.0 381.3,314.5 387.8,321.0 381.3,327.5" fill="#8000ff"/><polygon points="386.0,319.2 392.5,312.7 399.0,319.2 392.5,325.7" fill="#8000ff"/><polygon points="397.1,319.7 403.6,313.2 410.1,319.7 403.6,326.2" fill="#8000ff"/><polygon points="408.3,312.1 414.8,305.6 421.3,312.1 414.8,318.6" fill="#8000ff"/><polygon points="419.4,316.6 425.9,310.1 432.4,316.6 425.9,323.1" fill="#8000ff"/><polygon points="430.6,310.8 437.1,304.3 443.6,310.8 437.1,317.3" fill="#8000ff"/><polygon points="441.7,300.9 448.2,294.4 454.7,300.9 448.2,307.4" fill="#8000ff"/><polygon points="452.9,310.8 459.4,304.3 465.9,310.8 459.4,317.3" fill="#8000ff"/><polygon points="464.0,326.8 470.5,320.3 477.0,326.8 470.5,333.3" fill="#8000ff"/><polygon points="475.2,306.3 481.7,299.8 488.2,306.3 481.7,312.8" fill="#8000ff"/><polygon points="486.3,284.0 492.8,277.5 499.3,284.0 492.8,290.5" fill="#8000ff"/><polygon points="497.5,272.0 504.0,265.5 510.5,272.0 504.0,278.5" fill="#8000ff"/><polygon points="508.6,265.3 515.1,258.8 521.6,265.3 515.1,271.8" fill="#8000ff"/><polygon points="519.8,234.5 526.3,228.0 532.8,234.5 526.3,241.0" fill="#8000ff"/><polygon points="531.0,229.6 537.5,223.1 544.0,229.6 537.5,236.1" fill="#8000ff"/><polygon points="542.1,219.8 548.6,213.3 555.1,219.8 548.6,226.3" fill="#8000ff"/><polygon points="553.3,213.5 559.8,207.0 566.3,213.5 559.8,220.0" fill="#8000ff"/><polygon points="564.4,224.2 570.9,217.7 577.4,224.2 570.9,230.7" fill="#8000ff"/><polygon points="575.6,271.1 582.1,264.6 588.6,271.1 582.1,277.6" fill="#8000ff"/><polygon points="586.7,338.4 593.2,331.9 599.7,338.4 593.2,344.9" fill="#8000ff"/><polygon points="597.9,320.1 604.4,313.6 610.9,320.1 604.4,326.6" fill="#8000ff"/><polygon points="609.0,390.1 615.5,383.6 622.0,390.1 615.5,396.6" fill="#8000ff"/><polygon points="620.2,342.0 626.7,335.5 633.2,342.0 626.7,348.5" fill="#8000ff"/><polygon points="631.3,393.7 637.8,387.2 644.3,393.7 637.8,400.2" fill="#8000ff"/><polygon points="642.5,363.8 649.0,357.3 655.5,363.8 649.0,370.3" fill="#8000ff"/><polygon points="653.6,357.6 660.1,351.1 666.6,357.6 660.1,364.1" fill="#8000ff"/><polygon points="664.8,322.8 671.3,316.3 677.8,322.8 671.3,329.3" fill="#8000ff"/><polygon points="675.9,281.3 682.4,274.8 688.9,281.3 682.4,287.8" fill="#8000ff"/><polygon points="687.1,276.0 693.6,269.5 700.1,276.0 693.6,282.5" fill="#8000ff"/><polygon points="698.3,276.9 704.8,270.4 711.3,276.9 704.8,283.4" fill="#8000ff"/><polygon points="709.4,275.1 715.9,268.6 722.4,275.1 715.9,281.6" fill="#8000ff"/><polygon points="720.6,269.7 727.1,263.2 733.6,269.7 727.1,276.2" fill="#8000ff"/><polygon points="731.7,254.6 738.2,248.1 744.7,254.6 738.2,261.1" fill="#8000ff"/><polygon points="742.9,252.8 749.4,246.3 755.9,252.8 749.4,259.3" fill="#8000ff"/><polygon points="754.0,251.0 760.5,244.5 767.0,251.0 760.5,257.5" fill="#8000ff"/><polygon points="765.2,258.1 771.7,251.6 778.2,258.1 771.7,264.6" fill="#8000ff"/><polygon points="776.3,271.1 782.8,264.6 789.3,271.1 782.8,277.6" fill="#8000ff"/><polygon points="787.5,276.0 794.0,269.5 800.5,276.0 794.0,282.5" fill="#8000ff"/><polygon points="798.6,294.3 805.1,287.8 811.6,294.3 805.1,300.8" fill="#8000ff"/><polygon points="809.8,211.8 816.3,205.3 822.8,211.8 816.3,218.3" fill="#8000ff"/><polygon points="820.9,123.4 827.4,116.9 833.9,123.4 827.4,129.9" fill="#8000ff"/><polygon points="832.1,116.8 838.6,110.3 845.1,116.8 838.6,123.3" fill="#8000ff"/><polygon points="843.3,138.2 849.8,131.7 856.3,138.2 849.8,144.7" fill="#8000ff"/>
</g>
<rect x="91.3" y="12.45" width="892.30" height="714.35" fill="none" stroke="#000" stroke-width="2.9"/>
<path d="M91.3 102.48h14.9 M91.3 191.68h14.9 M91.3 280.88h14.9 M91.3 370.08h14.9 M91.3 459.28h14.9 M91.3 548.48h14.9 M91.3 637.68h14.9 M314.4 726.8v-9.4 M537.5 726.8v-9.4 M760.5 726.8v-9.4" stroke="#000" stroke-width="2.9" fill="none"/>
<text x="73.6" y="22.9" font-size="33.4" text-anchor="end">10</text>
<text x="73.6" y="112.1" font-size="33.4" text-anchor="end">8</text>
<text x="73.6" y="201.3" font-size="33.4" text-anchor="end">6</text>
<text x="73.6" y="290.5" font-size="33.4" text-anchor="end">4</text>
<text x="73.6" y="379.7" font-size="33.4" text-anchor="end">2</text>
<text x="73.6" y="468.9" font-size="33.4" text-anchor="end">0</text>
<text x="73.6" y="558.1" font-size="33.4" text-anchor="end">−2</text>
<text x="73.6" y="647.3" font-size="33.4" text-anchor="end">−4</text>
<text x="73.6" y="736.5" font-size="33.4" text-anchor="end">−6</text>
<text x="91.3" y="763.4" font-size="33.4" text-anchor="middle">0</text>
<text x="314.4" y="763.4" font-size="33.4" text-anchor="middle">20</text>
<text x="537.5" y="763.4" font-size="33.4" text-anchor="middle">40</text>
<text x="760.5" y="763.4" font-size="33.4" text-anchor="middle">60</text>
<text x="983.6" y="763.4" font-size="33.4" text-anchor="middle">80</text>
<text x="536.5" y="817.3" font-size="33.7" font-weight="bold" text-anchor="middle" xml:space="preserve">Jacking  distance / m</text>
<text transform="translate(22.8,370.6) rotate(-90)" font-size="33.7" font-weight="bold" text-anchor="middle">Stress value / MPa</text>
<path d="M155.9 39.8H231.4" stroke="#ff0000" stroke-width="3.9" stroke-linecap="round"/>
<rect x="188.6" y="35.0" width="9.5" height="9.5" fill="#ff0000"/>
<text x="238.7" y="50.7" font-size="32.6">Z-1</text>
<path d="M305.2 39.8H380.7" stroke="#0000ff" stroke-width="3.9" stroke-linecap="round"/>
<circle cx="342.7" cy="39.8" r="5.05" fill="#0000ff"/>
<text x="388.0" y="50.7" font-size="32.6">Z-2</text>
<path d="M454.5 39.8H530.0" stroke="#000000" stroke-width="3.9" stroke-linecap="round"/>
<rect x="487.2" y="35.0" width="9.5" height="9.5" fill="#000000"/>
<text x="537.3" y="50.7" font-size="32.6">Z-3</text>
<path d="M603.8 39.8H679.3" stroke="#ff8000" stroke-width="3.9" stroke-linecap="round"/>
<polygon points="635.3,36.2 647.3,36.2 641.3,46.6" fill="#ff8000"/>
<text x="686.6" y="50.7" font-size="32.6">Z-4</text>
<path d="M753.1 39.8H828.6" stroke="#8000ff" stroke-width="3.9" stroke-linecap="round"/>
<polygon points="784.2,39.8 790.6,33.4 797.0,39.8 790.6,46.2" fill="#8000ff"/>
<text x="835.9" y="50.7" font-size="32.6">Z-5</text>
<text x="456.8" y="114.2" font-size="33.6">Longitudinal</text>
<text x="456.8" y="155" font-size="33.6">stress sensor</text>
<path d="M449.8 118.5L392 144.9" stroke="#000" stroke-width="1.5" fill="none"/>
<polygon points="376.5,152 395,137.7 399.1,147.6" fill="#000"/>
</svg></body></html>
